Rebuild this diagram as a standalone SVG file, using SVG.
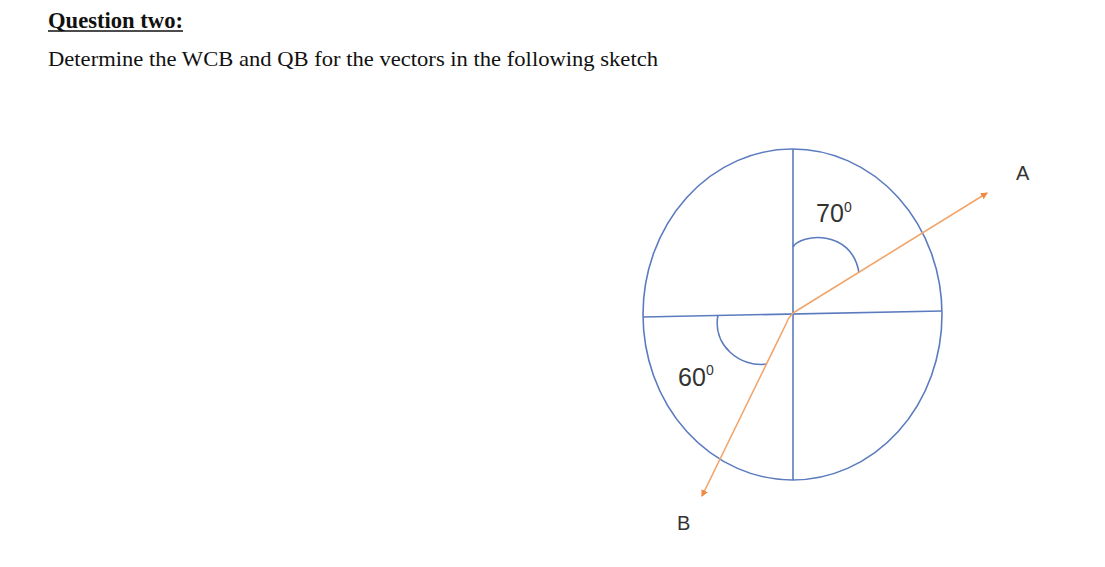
<svg xmlns="http://www.w3.org/2000/svg" width="1105" height="567" viewBox="0 0 1105 567">
<style>
.t{font-family:"Liberation Serif","Times New Roman",serif;fill:#111}
.s{font-family:"Liberation Sans",Arial,sans-serif;fill:#333}
.bl{fill:none;stroke:#5b7bbf;stroke-width:1.6}
.or{fill:none;stroke:#f2a56a;stroke-width:1.6}
</style>
<defs>
<marker id="ah" markerWidth="8" markerHeight="8" refX="6" refY="4" orient="auto" markerUnits="userSpaceOnUse">
<path d="M0,0.5 L7,4 L0,7.5 Z" fill="#ee8a45"/>
</marker>
</defs>
<rect width="1105" height="567" fill="#fff"/>
<g id="title">
<text class="t" x="48" y="28" font-size="23" font-weight="bold" textLength="135" lengthAdjust="spacingAndGlyphs">Question two:</text>
<line x1="48" y1="31" x2="183" y2="31" stroke="#111" stroke-width="1.3"/>
</g>
<g id="question">
<text class="t" x="48" y="66" font-size="22" textLength="610" lengthAdjust="spacingAndGlyphs">Determine the WCB and QB for the vectors in the following sketch</text>
</g>
<g id="circle">
<ellipse class="bl" cx="792.5" cy="314.5" rx="149.5" ry="165.5" stroke="#6680b8"/>
<line class="bl" x1="793" y1="149" x2="793" y2="480"/>
<line class="bl" x1="643" y1="317" x2="942" y2="311"/>
</g>
<g id="angles">
<path class="bl" d="M793,247 C800,234 852,228 859,273"/>
<path class="bl" d="M718,315 C712,345 740,368 767,364"/>
<text class="s" x="816" y="222" font-size="25">70</text>
<text class="s" x="844" y="212" font-size="14">0</text>
<text class="s" x="678" y="386" font-size="25">60</text>
<text class="s" x="706" y="375" font-size="14">0</text>
</g>
<g id="connectors">
<path class="or" d="M793,313 L987,193" marker-end="url(#ah)"/>
<path class="or" d="M793,313 Q788,318 786,324 L702,496" marker-end="url(#ah)"/>
</g>
<g id="labelA"><text class="s" x="1016" y="180" font-size="20">A</text></g>
<g id="labelB"><text class="s" x="677" y="530" font-size="20">B</text></g>
</svg>
